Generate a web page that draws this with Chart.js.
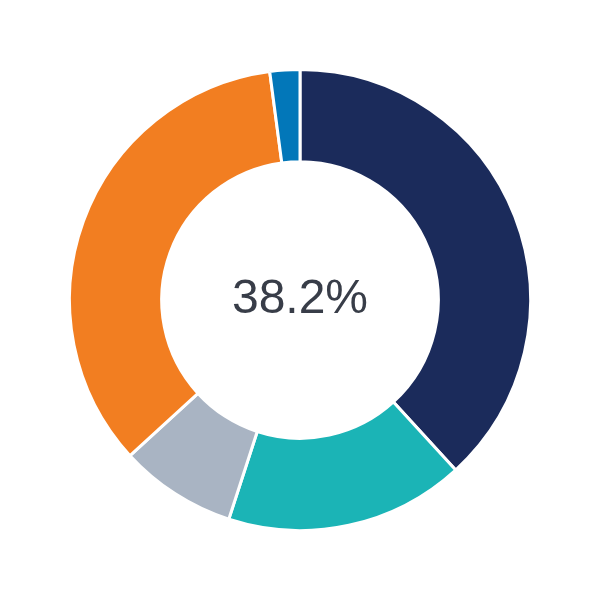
<!DOCTYPE html>
<html><head><script src="https://cdn.jsdelivr.net/npm/chart.js"></script>
<style>html,body{margin:0;padding:0;background:#fff}#w{width:600px;height:600px;position:relative}</style></head>
<body><div id="w"><canvas id="c"></canvas></div>
<script>
const labels=["A","B","C","D","E"];
const values=[38.2,16.8,8.2,34.7,2.1];
const colors=["#1b2b5b","#1bb4b6","#a9b4c3","#f27e21","#0277b9"];
const centerText="38.2%";
const centerPlugin={id:"ct",afterDraw(ch){const m=ch.getDatasetMeta(0).data[0];const c=ch.ctx;c.save();c.font="48px 'Liberation Sans', Arial, sans-serif";c.fillStyle="#383d48";c.textAlign="center";c.textBaseline="middle";c.fillText(centerText,m.x,m.y);c.restore();}};
new Chart(document.getElementById("c"),{type:"doughnut",data:{labels,datasets:[{data:values,backgroundColor:colors,borderColor:"#fff",borderWidth:3}]},
options:{responsive:true,maintainAspectRatio:false,animation:false,cutout:"60%",layout:{padding:68},plugins:{legend:{display:false},tooltip:{enabled:false}}},plugins:[centerPlugin]});
</script></body></html>
